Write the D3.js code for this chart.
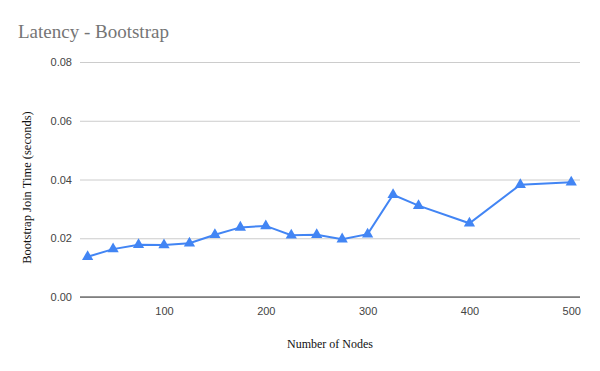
<!DOCTYPE html>
<html>
<head>
<meta charset="utf-8">
<script src="https://cdn.jsdelivr.net/npm/d3@7"></script>
<style>
  body { margin: 0; background: #fff; }
  svg { display: block; }
</style>
</head>
<body>
<svg id="chart"></svg>
<script>
// data
const nodes = [25, 50, 75, 100, 125, 150, 175, 200, 225, 250, 275, 300, 325, 350, 400, 450, 500];
const joinTime = [0.0137, 0.0163, 0.0178, 0.0177, 0.0183, 0.0212, 0.0237, 0.0242, 0.0210, 0.0212, 0.0197, 0.0214, 0.0348, 0.0311, 0.0251, 0.0382, 0.0391];
const yTicks = [0, 0.02, 0.04, 0.06, 0.08];
const xTicks = [100, 200, 300, 400, 500];

const width = 600;
const height = 371;
const margin = { top: 62, right: 20, bottom: 74, left: 80 };

const svg = d3.select("#chart")
    .attr("width", width)
    .attr("height", height);

const x = d3.scaleLinear()
    .domain([17.5, 508.6])
    .range([margin.left, width - margin.right]);

const y = d3.scaleLinear()
    .domain([0, 0.08])
    .range([height - margin.bottom, margin.top]);

// title
svg.append("text")
    .attr("x", 18)
    .attr("y", 38)
    .attr("font-family", "Liberation Serif, serif")
    .attr("font-size", 19)
    .attr("fill", "#757575")
    .text("Latency - Bootstrap");

// gridlines + y labels
const yAxis = svg.append("g")
    .attr("transform", `translate(${margin.left},0)`)
    .call(d3.axisLeft(y)
        .tickValues(yTicks)
        .tickSize(-(width - margin.left - margin.right))
        .tickPadding(8)
        .tickFormat(d3.format(".2f")));
yAxis.select(".domain").remove();
yAxis.selectAll("line").attr("stroke", "#cccccc");
yAxis.selectAll("text")
    .attr("font-family", "Liberation Sans, Arial, sans-serif")
    .attr("font-size", 11)
    .attr("fill", "#444");

// x labels
const xAxis = svg.append("g")
    .attr("transform", `translate(0,${height - margin.bottom})`)
    .call(d3.axisBottom(x).tickValues(xTicks).tickSize(0).tickPadding(10));
xAxis.select(".domain").remove();
xAxis.selectAll("text")
    .attr("font-family", "Liberation Sans, Arial, sans-serif")
    .attr("font-size", 11)
    .attr("fill", "#444");

// baseline
svg.append("line")
    .attr("x1", margin.left)
    .attr("x2", width - margin.right)
    .attr("y1", y(0))
    .attr("y2", y(0))
    .attr("stroke", "#333")
    .attr("stroke-width", 1);

// axis titles
svg.append("text")
    .attr("x", 330)
    .attr("y", 348)
    .attr("text-anchor", "middle")
    .attr("font-family", "Liberation Serif, serif")
    .attr("font-size", 12)
    .attr("fill", "#111")
    .text("Number of Nodes");

svg.append("text")
    .attr("transform", `translate(31,${y(0.04) + 8}) rotate(-90)`)
    .attr("text-anchor", "middle")
    .attr("font-family", "Liberation Serif, serif")
    .attr("font-size", 12.5)
    .attr("fill", "#111")
    .text("Bootstrap Join Time (seconds)");

// line
const pts = nodes.map((n, i) => [n, joinTime[i]]);
svg.append("path")
    .datum(pts)
    .attr("fill", "none")
    .attr("stroke", "#4285f4")
    .attr("stroke-width", 2)
    .attr("d", d3.line().x(d => x(d[0])).y(d => y(d[1])));

// triangle markers
const tri = d3.symbol().type(d3.symbolTriangle).size(55);
svg.selectAll(".marker")
    .data(pts)
    .enter().append("path")
    .attr("class", "marker")
    .attr("transform", d => `translate(${x(d[0])},${y(d[1])})`)
    .attr("d", tri)
    .attr("fill", "#4285f4");
</script>
</body>
</html>
